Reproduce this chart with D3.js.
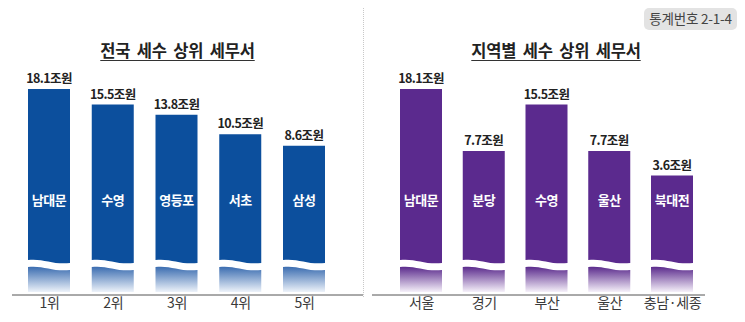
<!DOCTYPE html>
<html><head><meta charset="utf-8">
<script src="https://cdn.jsdelivr.net/npm/d3@7/dist/d3.min.js"></script>
<style>
html,body{margin:0;padding:0;background:#fff;}
svg{display:block;font-family:"Noto Sans CJK KR","Noto Sans",sans-serif;}
</style></head>
<body>
<svg id="chart" width="745" height="322"></svg>
<script>
const leftTitle = "전국 세수 상위 세무서";
const rightTitle = "지역별 세수 상위 세무서";
const badgeText = "통계번호 2-1-4";
const leftCats = ["1위","2위","3위","4위","5위"];
const leftOffices = ["남대문","수영","영등포","서초","삼성"];
const leftValues = [18.1,15.5,13.8,10.5,8.6];
const rightCats = ["서울","경기","부산","울산","충남·세종"];
const rightOffices = ["남대문","분당","수영","울산","북대전"];
const rightValues = [18.1,7.7,15.5,7.7,3.6];

const svg = d3.select("#chart");
const defs = svg.append("defs");
function grad(id, c1, c2){
  const g = defs.append("linearGradient").attr("id", id).attr("x1",0).attr("x2",0).attr("y1",0).attr("y2",1);
  g.append("stop").attr("offset","0%").attr("stop-color",c1);
  g.append("stop").attr("offset","100%").attr("stop-color",c2);
}
grad("gBlue", "#3a6cb0", "#eef3fa");
grad("gPurple", "#5a2a8c", "#f6f1fa");

const y = d3.scaleLinear().domain([0, 18.1]).range([197, 89]);
const breakTop = 261, gapH = 7, baseY = 292;
const barW = 42;
const fmt = d3.format(".1f");

function panel(cats, offices, values, xRange, color, gradId, title, titleX, axisX){
  const x = d3.scalePoint().domain(cats).range(xRange);
  const g = svg.append("g");
  const data = cats.map((c,i)=>({c, o: offices[i], v: values[i]}));
  g.selectAll(".up").data(data).join("path")
    .attr("fill", color)
    .attr("d", d => {
      const x0 = x(d.c) - barW/2, x1 = x0 + barW, t = y(d.v);
      return `M${x0},${t}L${x1},${t}L${x1},${breakTop+2}` +
        `C${x0+barW*0.6},${breakTop+4} ${x0+barW*0.35},${breakTop-3} ${x0},${breakTop-1}Z`;
    });
  g.selectAll(".low").data(data).join("path")
    .attr("fill", `url(#${gradId})`)
    .attr("d", d => {
      const x0 = x(d.c) - barW/2, x1 = x0 + barW, b = breakTop + gapH;
      return `M${x0},${b-1}C${x0+barW*0.35},${b-3} ${x0+barW*0.6},${b+4} ${x1},${b+2}` +
        `L${x1},${baseY}L${x0},${baseY}Z`;
    });
  g.selectAll(".val").data(data).join("text")
    .attr("x", d => x(d.c)).attr("y", d => y(d.v) - 6)
    .attr("text-anchor","middle").attr("font-size","12.5px").attr("font-weight","700")
    .attr("letter-spacing","-0.6px").attr("fill","#222")
    .text(d => fmt(d.v) + "조원");
  g.selectAll(".in").data(data).join("text")
    .attr("x", d => x(d.c)).attr("y", 205)
    .attr("text-anchor","middle").attr("font-size","13px").attr("font-weight","700")
    .attr("letter-spacing","-0.5px").attr("fill","#fff")
    .text(d => d.o);
  const axis = d3.axisBottom(x).tickSize(0).tickPadding(8);
  const ag = g.append("g").attr("transform", `translate(0,${baseY+3})`).call(axis);
  ag.select(".domain").remove();
  ag.append("line").attr("x1", axisX[0]).attr("x2", axisX[1]).attr("y1",0).attr("y2",0)
    .attr("stroke","#555").attr("stroke-width",1);
  ag.selectAll(".tick text").attr("font-size","14px").attr("fill","#3a3a3a")
    .attr("font-family",'"Noto Sans CJK KR",sans-serif').attr("dy","0.75em").attr("y",2)
    .attr("letter-spacing","-0.4px");
  const tt = g.append("text").attr("x", titleX).attr("y", 57).attr("text-anchor","middle")
    .attr("font-size","16.5px").attr("font-weight","700").attr("fill","#222")
    .attr("word-spacing","3px").attr("letter-spacing","-0.2px").text(title);
  const bb = tt.node().getBBox();
  g.append("line").attr("x1", bb.x).attr("x2", bb.x + bb.width).attr("y1", 60.5).attr("y2", 60.5)
    .attr("stroke","#333").attr("stroke-width",1);
}

panel(leftCats, leftOffices, leftValues, [49, 304], "#0c4f9d", "gBlue", leftTitle, 177.5, [12, 363]);
panel(rightCats, rightOffices, rightValues, [421, 672], "#5b2a8e", "gPurple", rightTitle, 556, [372, 705]);

svg.append("line").attr("x1",363.5).attr("x2",363.5).attr("y1",8).attr("y2",297)
  .attr("stroke","#c8c8c8").attr("stroke-width",1).attr("stroke-dasharray","1,1");

svg.append("rect").attr("x",644).attr("y",8).attr("width",93).attr("height",22).attr("rx",5)
  .attr("fill","#e3e3e3");
svg.append("text").attr("x",690.5).attr("y",24).attr("text-anchor","middle")
  .attr("font-size","13.5px").attr("fill","#444").attr("letter-spacing","-0.2px").text(badgeText);
</script>
</body></html>
